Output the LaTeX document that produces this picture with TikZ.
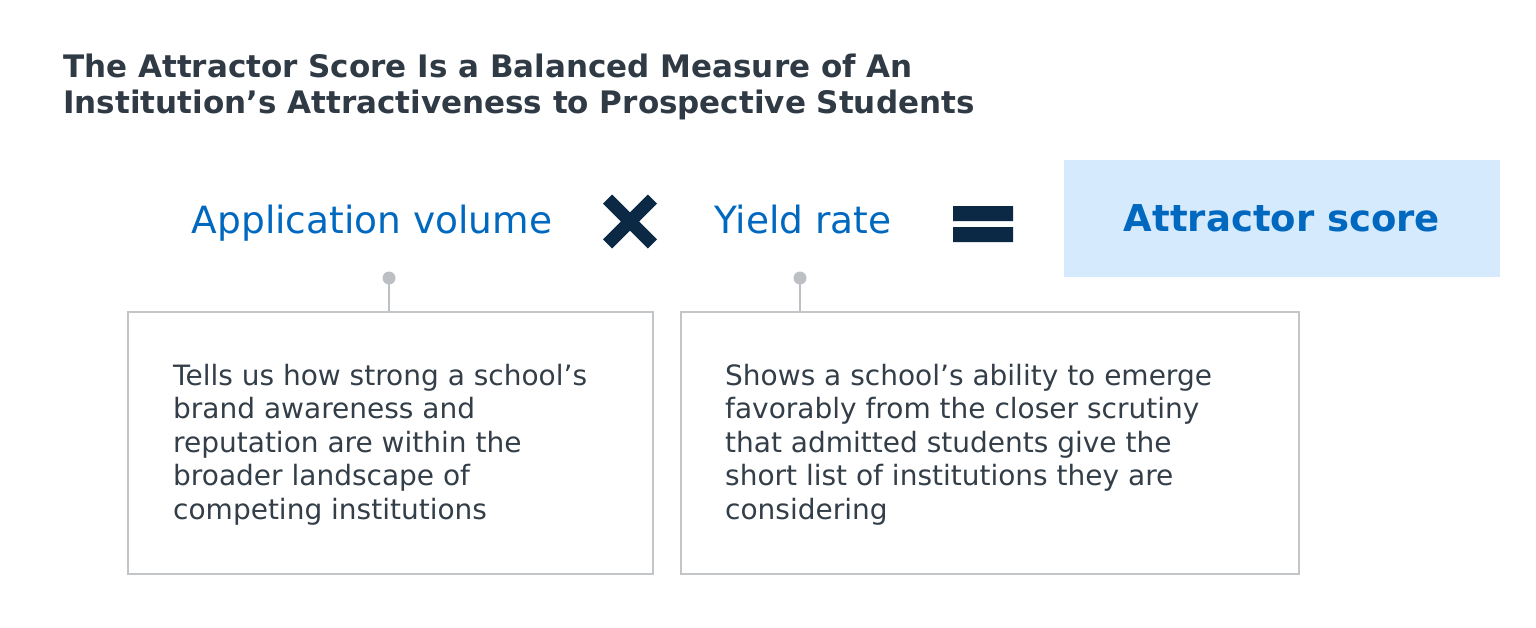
\documentclass[tikz,border=0pt]{standalone}
\usepackage{fontspec}
\setmainfont{DejaVu Sans}
\definecolor{titlegray}{HTML}{2F3A45}
\definecolor{bodygray}{HTML}{333E48}
\definecolor{headblue}{HTML}{0068BF}
\definecolor{signnavy}{HTML}{0B2945}
\definecolor{scorefill}{HTML}{D5EAFC}
\definecolor{cardgray}{HTML}{C3C6C9}
\definecolor{dotgray}{HTML}{BCC0C4}
\begin{document}
\begin{tikzpicture}[x=1pt,y=-1pt,
    head/.style={anchor=base,inner sep=0pt,text=headblue,font=\fontsize{37.5}{40}\selectfont},
    card/.style={draw=cardgray,line width=2.2pt,anchor=north west,inner sep=0pt},
    cardtext/.style={anchor=north west,inner sep=0pt,align=left,text=bodygray,font=\fontsize{28}{33.5}\selectfont},
    stem/.style={dotgray,line width=2.2pt}]
    \useasboundingbox (0,0) rectangle (1536,627);
    \node[anchor=north west,inner sep=0pt,align=left,text=titlegray,font=\bfseries\fontsize{31}{35.5}\selectfont] (title) at (63,54)
        {The Attractor Score Is a Balanced Measure of An\\Institution’s Attractiveness to Prospective Students};
    \node[head] (appvol) at (372,233) {Application volume};
    \node[head] (yield) at (803,233) {Yield rate};
    \node[fill=scorefill,minimum width=436pt,minimum height=117pt,inner sep=0pt,text=headblue,font=\bfseries\fontsize{37}{40}\selectfont] (score) at (1282,218.5) {Attractor score};
    \draw[signnavy,line width=13pt] (607.6,199.1) -- (652.4,243.9) (607.6,243.9) -- (652.4,199.1);
    \fill[signnavy] (953,206) rectangle (1013,221) (953,227) rectangle (1013,242);
    \node[card,minimum width=525pt,minimum height=262pt] (appbox) at (127,311) {};
    \node[card,minimum width=618pt,minimum height=262pt] (yieldbox) at (680,311) {};
    \coordinate (appdot) at (389,278);
    \coordinate (yielddot) at (800,278);
    \draw[stem] (appdot) -- (appdot |- appbox.north);
    \draw[stem] (yielddot) -- (yielddot |- yieldbox.north);
    \fill[dotgray] (appdot) circle (6.5pt) (yielddot) circle (6.5pt);
    \node[cardtext] (apptext) at (173,364)
        {Tells us how strong a school’s\\brand awareness and\\reputation are within the\\broader landscape of\\competing institutions};
    \node[cardtext] (yieldtext) at (725,364)
        {Shows a school’s ability to emerge\\favorably from the closer scrutiny\\that admitted students give the\\short list of institutions they are\\considering};
\end{tikzpicture}
\end{document}
